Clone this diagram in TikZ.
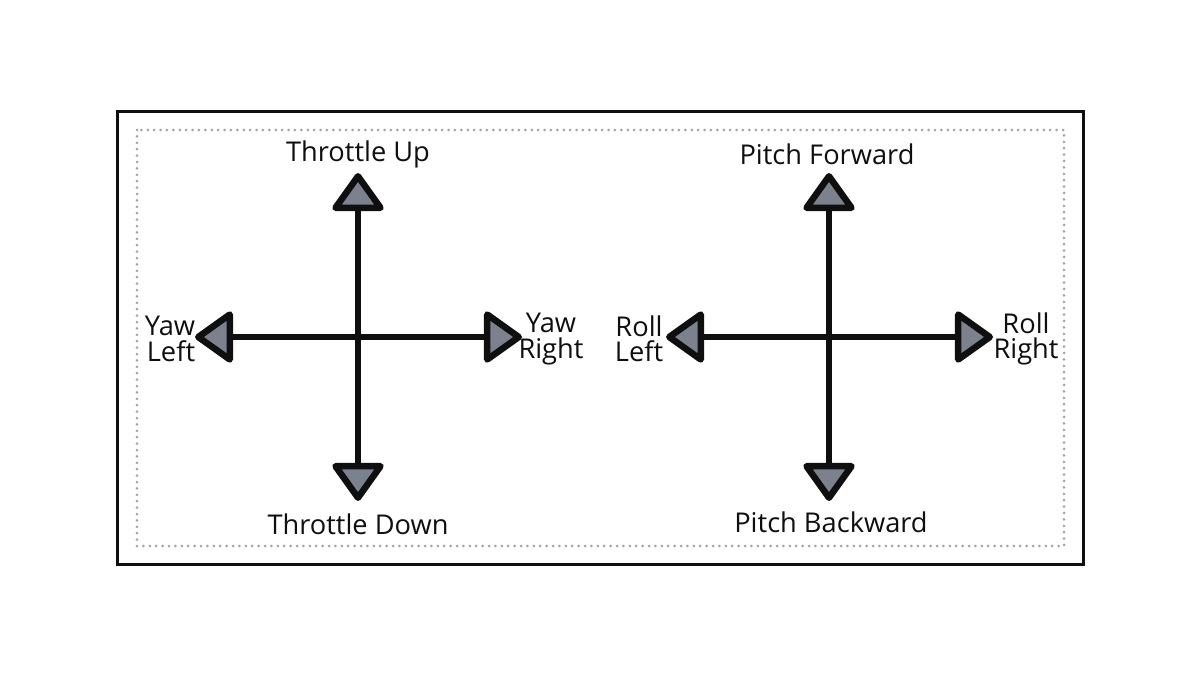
\documentclass[tikz,border=0pt]{standalone}
\usepackage{fontspec}
\setmainfont{Open Sans}
\usetikzlibrary{arrows.meta,positioning}
\definecolor{ink}{RGB}{15,15,15}
\definecolor{slate}{RGB}{124,129,142}
\definecolor{dotgray}{RGB}{165,165,165}
\tikzset{
  stick/.style={draw=ink,line width=1.1mm,
    -{Triangle[length=8.1mm,width=11.2mm,line width=1.3mm,fill=slate,round]}},
  lbl/.style={font=\fontsize{15.5}{14.5}\selectfont,align=center,inner sep=0pt,text=ink},
  frame/.style={draw=ink,line width=0.6mm},
  inner frame/.style={draw=dotgray,line width=0.6mm,line cap=round,dash pattern=on 0pt off 1.28mm},
}

\begin{document}
\begin{tikzpicture}[x=0.2mm,y=-0.2mm]
  \useasboundingbox (0,0) rectangle (1200,675);
  \draw[frame] (117,111) rectangle (1083,564);
  \draw[inner frame] (137,130) rectangle (1064,546);
  % left stick
  \coordinate (lc) at (358,337);
  \coordinate (lup) at (358,173);
  \coordinate (ldown) at (358,501);
  \coordinate (lleft) at (195,337);
  \coordinate (lright) at (522,337);
  \node[lbl] (thrUp) at (358,154) {Throttle Up};
  \node[lbl] (thrDown) at (358,524) {Throttle Down};
  \node[lbl,align=right] (yawL) at (170,339) {Yaw\\Left};
  \node[lbl] (yawR) at (551,339) {Yaw\\Right};
  \foreach \t in {lup,ldown,lleft,lright} \draw[stick] (lc) -- (\t);
  % right stick
  \coordinate (rc) at (829,337);
  \coordinate (rup) at (829,173);
  \coordinate (rdown) at (829,501);
  \coordinate (rleft) at (666,337);
  \coordinate (rright) at (993,337);
  \node[lbl] (pitF) at (827,154) {Pitch Forward};
  \node[lbl] (pitB) at (831,522) {Pitch Backward};
  \node[lbl] (rollL) at (639,339) {Roll\\Left};
  \node[lbl] (rollR) at (1026,339) {Roll\\Right};
  \foreach \t in {rup,rdown,rleft,rright} \draw[stick] (rc) -- (\t);
\end{tikzpicture}
\end{document}
